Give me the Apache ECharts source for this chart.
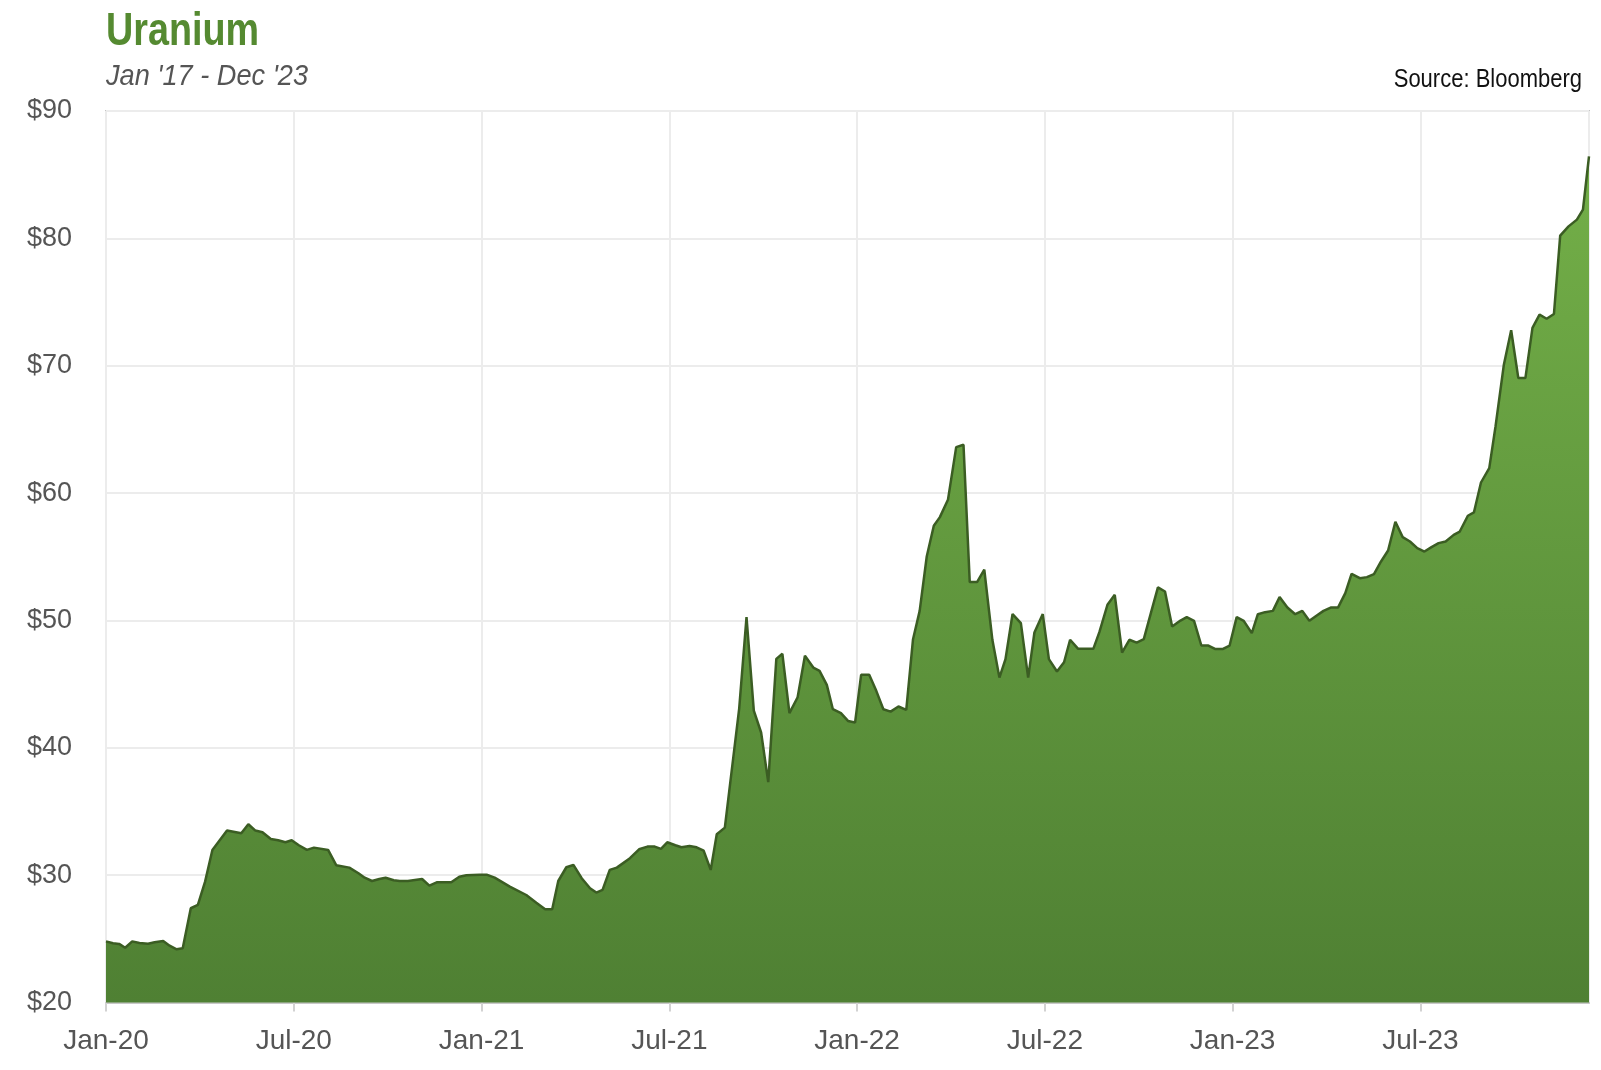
<!DOCTYPE html>
<html><head><meta charset="utf-8">
<script src="https://cdn.jsdelivr.net/npm/echarts@6/dist/echarts.min.js"></script>
<style>html,body{margin:0;padding:0;background:#fff}#c{width:1601px;height:1070px}</style>
</head><body><div id="c"></div>
<script>
const FONT = '"Liberation Sans Narrow","Arial Narrow","Liberation Sans",Arial,sans-serif';

const titleText = 'Uranium';
const subtitleText = "Jan '17 - Dec '23";
const sourceText = 'Source: Bloomberg';
const xTickLabels = ['Jan-20','Jul-20','Jan-21','Jul-21','Jan-22','Jul-22','Jan-23','Jul-23'];
const yTicks = [20,30,40,50,60,70,80,90];

const dates = [
'2020-01-01','2020-01-08','2020-01-14','2020-01-20','2020-01-27','2020-02-03','2020-02-11','2020-02-17','2020-02-25','2020-03-02','2020-03-09','2020-03-15',
'2020-03-23','2020-03-30','2020-04-06','2020-04-13',
'2020-04-27','2020-05-11','2020-05-18','2020-05-25','2020-06-01','2020-06-09','2020-06-16','2020-06-23','2020-06-29',
'2020-07-06','2020-07-14','2020-07-21','2020-08-04','2020-08-12','2020-08-25',
'2020-09-03','2020-09-09','2020-09-16','2020-09-23','2020-09-29','2020-10-07','2020-10-13','2020-10-21','2020-10-28',
'2020-11-04','2020-11-11','2020-11-18','2020-12-02','2020-12-10','2020-12-17','2020-12-30',
'2021-01-06','2021-01-14','2021-01-29','2021-02-13','2021-02-22','2021-03-02','2021-03-09',
'2021-03-15','2021-03-23','2021-03-30','2021-04-07','2021-04-15','2021-04-21','2021-04-27',
'2021-05-04','2021-05-11','2021-05-24','2021-06-02','2021-06-10','2021-06-17','2021-06-23','2021-06-29',
'2021-07-07','2021-07-13','2021-07-21','2021-07-28','2021-08-04','2021-08-11','2021-08-17','2021-08-25',
'2021-09-08','2021-09-15','2021-09-22','2021-09-29','2021-10-06',
'2021-10-14','2021-10-20','2021-10-27','2021-11-04','2021-11-11','2021-11-19','2021-11-25','2021-12-02','2021-12-08','2021-12-16','2021-12-23','2021-12-30',
'2022-01-05','2022-01-13','2022-01-20','2022-01-27','2022-02-03','2022-02-10','2022-02-17',
'2022-02-23','2022-03-01','2022-03-08','2022-03-15','2022-03-21','2022-03-29','2022-04-06','2022-04-13',
'2022-04-19','2022-04-26','2022-05-03','2022-05-11','2022-05-18','2022-05-24','2022-05-31','2022-06-08','2022-06-15','2022-06-21','2022-06-29',
'2022-07-05','2022-07-13','2022-07-20','2022-07-26','2022-08-03','2022-08-18','2022-08-24','2022-09-01','2022-09-08',
'2022-09-15','2022-09-22','2022-09-29','2022-10-06','2022-10-13','2022-10-20','2022-10-27','2022-11-03','2022-11-11','2022-11-17','2022-11-24',
'2022-12-01','2022-12-08','2022-12-15','2022-12-22','2022-12-29',
'2023-01-05','2023-01-12','2023-01-20','2023-01-26','2023-02-02','2023-02-09','2023-02-15','2023-02-22',
'2023-03-01','2023-03-08','2023-03-15','2023-03-22','2023-03-29','2023-04-05','2023-04-12','2023-04-19','2023-04-25',
'2023-05-03','2023-05-10','2023-05-17','2023-05-24','2023-05-31','2023-06-07','2023-06-14','2023-06-21','2023-06-28',
'2023-07-05','2023-07-12','2023-07-19','2023-07-26','2023-08-03','2023-08-09','2023-08-17','2023-08-23','2023-08-30',
'2023-09-07','2023-09-13','2023-09-21','2023-09-28','2023-10-05','2023-10-12','2023-10-19','2023-10-26','2023-11-02','2023-11-09',
'2023-11-15','2023-11-23','2023-12-01','2023-12-07','2023-12-13'
];

const prices = [
24.8,24.65,24.6,24.3,24.8,24.67,24.62,24.73,24.83,24.46,24.18,24.26,
27.4,27.66,29.49,31.98,
33.5,33.29,34.0,33.5,33.37,32.84,32.74,32.58,32.74,
32.35,31.98,32.16,31.98,30.78,30.59,
30.15,29.8,29.54,29.7,29.8,29.6,29.54,29.54,29.62,
29.7,29.18,29.44,29.44,29.88,29.99,30.04,
30.04,29.8,29.1,28.44,27.84,27.32,27.32,
29.54,30.62,30.8,29.76,28.97,28.63,28.84,
30.41,30.59,31.33,32.03,32.24,32.24,32.06,32.58,
32.35,32.19,32.29,32.19,31.92,30.41,33.21,33.73,
43.1,50.26,42.92,41.2,37.3,
46.98,47.38,42.72,43.97,47.22,46.3,46.04,44.94,43.03,42.72,42.11,41.98,
45.73,45.73,44.47,43.03,42.84,43.24,42.98,
48.5,50.75,55.02,57.43,58.11,59.47,63.61,63.79,
53.01,53.01,53.98,48.48,45.51,46.96,50.5,49.79,45.51,49.05,50.5,
46.96,45.99,46.72,48.48,47.77,47.77,49.08,51.23,52.01,
47.48,48.48,48.26,48.53,50.57,52.59,52.27,49.52,49.99,50.26,49.97,
48.03,48.03,47.75,47.75,48.03,
50.26,49.97,49.0,50.49,50.65,50.75,51.83,51.01,
50.49,50.75,49.97,50.36,50.75,51.01,51.01,52.14,53.66,
53.32,53.4,53.64,54.63,55.49,57.75,56.54,56.2,55.68,
55.41,55.76,56.07,56.2,56.72,56.98,58.22,58.48,60.83,
61.96,65.23,70.08,72.78,69.03,69.03,72.97,74.01,73.69,74.06,
80.21,80.94,81.47,82.25,86.44
];

// position on the x axis in months since Jan 2020
function toMonths(s) {
  const p = s.split('-').map(Number);
  const dim = new Date(p[0], p[1], 0).getDate();
  return (p[0] - 2020) * 12 + (p[1] - 1) + (p[2] - 1) / dim;
}
const seriesData = dates.map((d, i) => [toMonths(d), prices[i]]);
const xMax = seriesData[seriesData.length - 1][0];

const BASE = '"Liberation Sans", Arial, sans-serif';
const chart = echarts.init(document.getElementById('c'), null, {renderer: 'canvas'});
chart.setOption({
  animation: false,
  backgroundColor: '#ffffff',
  graphic: [
    {type: 'text', x: 106, y: 9, scaleX: 0.82, silent: true,
     style: {text: titleText, font: 'bold 46px ' + BASE, fill: '#558a31',
             align: 'left', textAlign: 'left', verticalAlign: 'top', textVerticalAlign: 'top'}},
    {type: 'text', x: 106, y: 62, scaleX: 0.905, silent: true,
     style: {text: subtitleText, font: 'italic 30px ' + BASE, fill: '#555555',
             align: 'left', textAlign: 'left', verticalAlign: 'top', textVerticalAlign: 'top'}},
    {type: 'text', x: 1582, y: 67, scaleX: 0.846, silent: true,
     style: {text: sourceText, font: '26px ' + BASE, fill: '#111111',
             align: 'right', textAlign: 'right', verticalAlign: 'top', textVerticalAlign: 'top'}}
  ],
  grid: {left: 106, right: 12, top: 111, bottom: 67.5, show: true,
         borderColor: '#c4c4c4', borderWidth: 2, backgroundColor: 'transparent'},
  xAxis: {
    type: 'value', min: 0, max: xMax, interval: 6,
    axisLine: {show: true, lineStyle: {color: '#c8c8c8', width: 2}},
    axisTick: {show: true, length: 9, lineStyle: {color: '#d2d2d2', width: 2}},
    axisLabel: {
      fontFamily: FONT, fontSize: 28, color: '#555555', margin: 25, showMaxLabel: false,
      formatter: v => (Math.abs(v / 6 - Math.round(v / 6)) < 1e-6 ? (xTickLabels[Math.round(v / 6)] || '') : '')
    },
    splitLine: {show: true, lineStyle: {color: '#ececec', width: 2}}
  },
  yAxis: {
    type: 'value', min: yTicks[0], max: yTicks[yTicks.length - 1], interval: 10,
    axisLine: {show: false}, axisTick: {show: false},
    axisLabel: {fontFamily: FONT, fontSize: 27, color: '#555555', margin: 34, formatter: '${value}'},
    splitLine: {show: true, lineStyle: {color: '#ececec', width: 2}}
  },
  series: [{
    type: 'line', data: seriesData, symbol: 'none', smooth: false,
    lineStyle: {color: '#3b5d23', width: 2.5},
    areaStyle: {origin: 'start', opacity: 1,
      color: new echarts.graphic.LinearGradient(0, 0, 0, 1, [
        {offset: 0, color: '#73af48'}, {offset: 1, color: '#4f8033'}])}
  }]
});
</script></body></html>
